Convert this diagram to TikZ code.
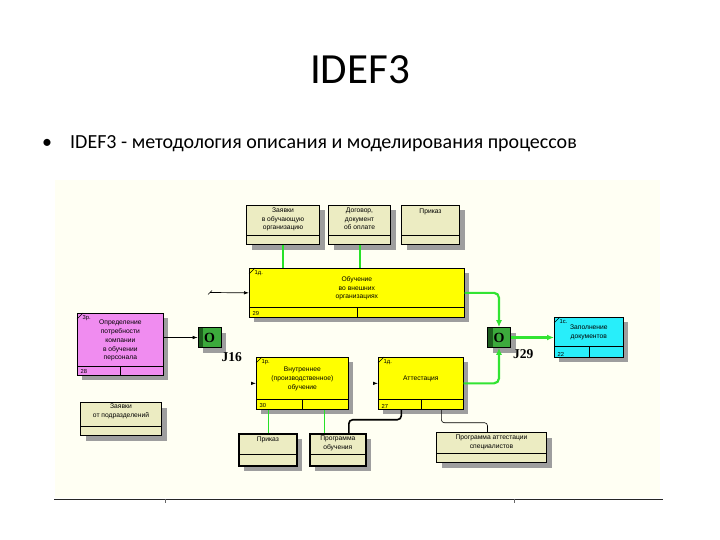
\documentclass[tikz,border=0pt]{standalone}
\usepackage{fontspec}
\setmainfont{Carlito}
\newfontfamily\boxfont{Liberation Sans}
\newfontfamily\jfont{Liberation Serif}
\usetikzlibrary{arrows.meta,positioning,shadows,calc}

\definecolor{paper}{RGB}{255,255,243}
\definecolor{refbg}{RGB}{236,236,194}
\definecolor{uobyellow}{RGB}{255,255,0}
\definecolor{uobpink}{RGB}{240,140,240}
\definecolor{uobcyan}{RGB}{40,238,250}
\definecolor{jgreen}{RGB}{60,170,60}
\definecolor{jdark}{RGB}{30,95,30}
\definecolor{linkgreen}{RGB}{50,228,50}
\definecolor{ctrlgreen}{RGB}{40,225,40}

\begin{document}
\begin{tikzpicture}[
        x=1pt, y=-1pt,
        >=Latex,
        shad/.style={general shadow={fill=black!38, shadow xshift=5pt, shadow yshift=-5pt}},
        uob/.style={draw, line width=0.7pt, shad, inner sep=0pt, anchor=north west},
        refbox/.style={draw, line width=1pt, fill=refbg, shad, inner sep=0pt, anchor=north west},
        boxtext/.style={font=\boxfont\fontsize{6.7}{8.8}\selectfont, align=center, inner sep=0.5pt},
        codetext/.style={font=\boxfont\fontsize{5.8}{6}\selectfont, inner sep=0.5pt},
        divider/.style={line width=1.3pt},
        junc/.style={draw, line width=0.6pt, fill=jgreen, shad, minimum width=23pt, minimum height=20pt, inner sep=0pt, font=\jfont\bfseries\fontsize{14}{14}\selectfont, path picture={\fill[jdark] (path picture bounding box.north west) rectangle ([xshift=5pt]path picture bounding box.south west);}},
        jlab/.style={font=\jfont\bfseries\fontsize{13.5}{14}\selectfont, inner sep=0pt},
        flow/.style={line width=0.7pt, -{Latex[length=5pt,width=3.5pt]}},
        gflow/.style={draw=linkgreen, line width=2.2pt, rounded corners=5pt, -{Latex[length=7pt,width=6pt]}},
        ctrl/.style={draw=ctrlgreen, line width=1.1pt},
        mech/.style={line width=1.6pt, rounded corners=4pt}
    ]
        \useasboundingbox (0,0) rectangle (720,540);
        \fill[paper] (55,180) rectangle (660,498);

        \node[font=\fontsize{43}{50}\selectfont, anchor=base] (title) at (360,84) {IDEF3};
        \node[font=\fontsize{20}{24}\selectfont, anchor=base west, inner sep=0pt] (bul) at (42,149) {•};
        \node[font=\fontsize{20}{24}\selectfont, anchor=base west, inner sep=0pt] (sub) at (70,149) {IDEF3 - методология описания и моделирования процессов};

        \node[refbox, minimum width=73pt, minimum height=39pt] (zay) at (246,205) {};
        \node[refbox, minimum width=62pt, minimum height=39pt] (dog) at (328,205) {};
        \node[refbox, minimum width=58pt, minimum height=39pt] (prk) at (401,205) {};
        \node[refbox, minimum width=81pt, minimum height=33pt] (zot) at (80,402) {};
        \node[refbox, line width=1.6pt, minimum width=58pt, minimum height=32pt] (prk2) at (238,433) {};
        \node[refbox, line width=1.6pt, minimum width=56pt, minimum height=32pt] (prog) at (309,433) {};
        \node[refbox, minimum width=110pt, minimum height=30pt] (patt) at (436,432) {};

        \node[boxtext, below=2pt of zay.north] (zay-t) {Заявки\\в обучающую\\организацию};
        \node[boxtext, below=2pt of dog.north] (dog-t) {Договор,\\документ\\об оплате};
        \node[boxtext, below=3pt of prk.north] (prk-t) {Приказ};
        \node[boxtext, below=1.5pt of zot.north] (zot-t) {Заявки\\от подразделений};
        \node[boxtext, below=3pt of prk2.north] (prk2-t) {Приказ};
        \node[boxtext, below=2pt of prog.north] (prog-t) {Программа\\обучения};
        \node[boxtext, below=2pt of patt.north] (patt-t) {Программа аттестации\\специалистов};

        \foreach \n/\h in {zay/10, dog/10, prk/10, zot/10, prk2/12, prog/12, patt/10}
            \draw[line width=1pt] ([yshift=\h pt]\n.south west) -- ([yshift=\h pt]\n.south east);

        \node[uob, fill=uobyellow, minimum width=215pt, minimum height=49pt] (ext) at (249,268) {};
        \node[uob, fill=uobpink, minimum width=86pt, minimum height=62pt] (need) at (77,313) {};
        \node[uob, fill=uobyellow, minimum width=92pt, minimum height=52pt] (intr) at (256,357) {};
        \node[uob, fill=uobyellow, minimum width=85pt, minimum height=52pt] (att) at (378,357) {};
        \node[uob, fill=uobcyan, minimum width=69pt, minimum height=40pt] (zap) at (554,317) {};

        \node[boxtext] (ext-t) at ($(ext.north)!0.41!(ext.south)$) {Обучение\\во внешних\\организациях};
        \node[boxtext] (need-t) at ($(need.north)!0.44!(need.south)$) {Определение\\потребности\\компании\\в обучении\\персонала};
        \node[boxtext] (intr-t) at ($(intr.north)!0.42!(intr.south)$) {Внутреннее\\(производственное)\\обучение};
        \node[boxtext] (att-t) at ($(att.north)!0.42!(att.south)$) {Аттестация};
        \node[boxtext] (zap-t) at ($(zap.north)!0.38!(zap.south)$) {Заполнение\\документов};

        \foreach \n/\c/\k/\h in {ext/1д./29/10, need/3р./28/9, intr/1р./30/10, att/1д./27/10, zap/1с./22/11} {
            \draw[divider] ([yshift=\h pt]\n.south west) -- ([yshift=\h pt]\n.south east);
            \draw[line width=0.7pt] ([yshift=\h pt]\n.south) -- (\n.south);
            \draw[line width=0.6pt] ([yshift=-6pt]\n.north west) -- ([xshift=6pt]\n.north west);
            \node[codetext, anchor=north west] (\n-code) at ([xshift=5pt,yshift=-2pt]\n.north west) {\c};
            \node[codetext, anchor=south west] (\n-num) at ([xshift=3pt,yshift=1pt]\n.south west) {\k};
        }

        \node[junc] (j16) at (209.5,337.5) {O};
        \node[junc] (j29) at (499,337.5) {O};
        \node[jlab, below right=5pt and 0pt of j16.south east] (j16-lab) {J16};
        \node[jlab, below right=2pt and 2pt of j29.south east] (j29-lab) {J29};

        \coordinate (inA) at (210,292.5);
        \draw[flow] (inA) -- (ext.west);
        \draw[line width=0.5pt] ([shift={(-2pt,-2pt)}]inA) -- ([shift={(2pt,2pt)}]inA);
        \draw[flow] (need.east |- j16.west) -- (j16.west);
        \draw[flow] ([xshift=-4pt]intr.west) -- (intr.west);
        \draw[flow] ([xshift=-4pt]att.west) -- (att.west);

        \draw[ctrl] (zay.south) -- (zay.south |- ext.north);
        \draw[ctrl] ([xshift=0.5pt]dog.south) -- ([xshift=0.5pt]dog.south |- ext.north);
        \draw[ctrl] ([xshift=0.5pt]prk2.north) -- ([xshift=0.5pt]prk2.north |- intr.south);
        \draw[ctrl] ([xshift=-13.5pt]prog.north) -- ([xshift=-13.5pt]prog.north |- intr.south);

        \draw[gflow] (ext.east) -| (j29.north);
        \draw[gflow] (att.east) -| (j29.south);
        \draw[gflow] (j29.east) -- (zap.west |- j29.east);

        \draw[mech] ([xshift=-19.5pt]att.south) -- ++(0,10) -| ([xshift=11pt]prog.north);
        \draw[line width=0.6pt, rounded corners=3pt] ([xshift=20.5pt]att.south) -- ++(0,13) -| ([xshift=-4pt]patt.north);

        \draw[black!85, line width=0.8pt] (54,499) -- (663,499);
        \draw[black!60, line width=0.5pt] (165,499) -- (165,503);
        \draw[black!60, line width=0.5pt] (514,499) -- (514,503);
    \end{tikzpicture}
\end{document}
